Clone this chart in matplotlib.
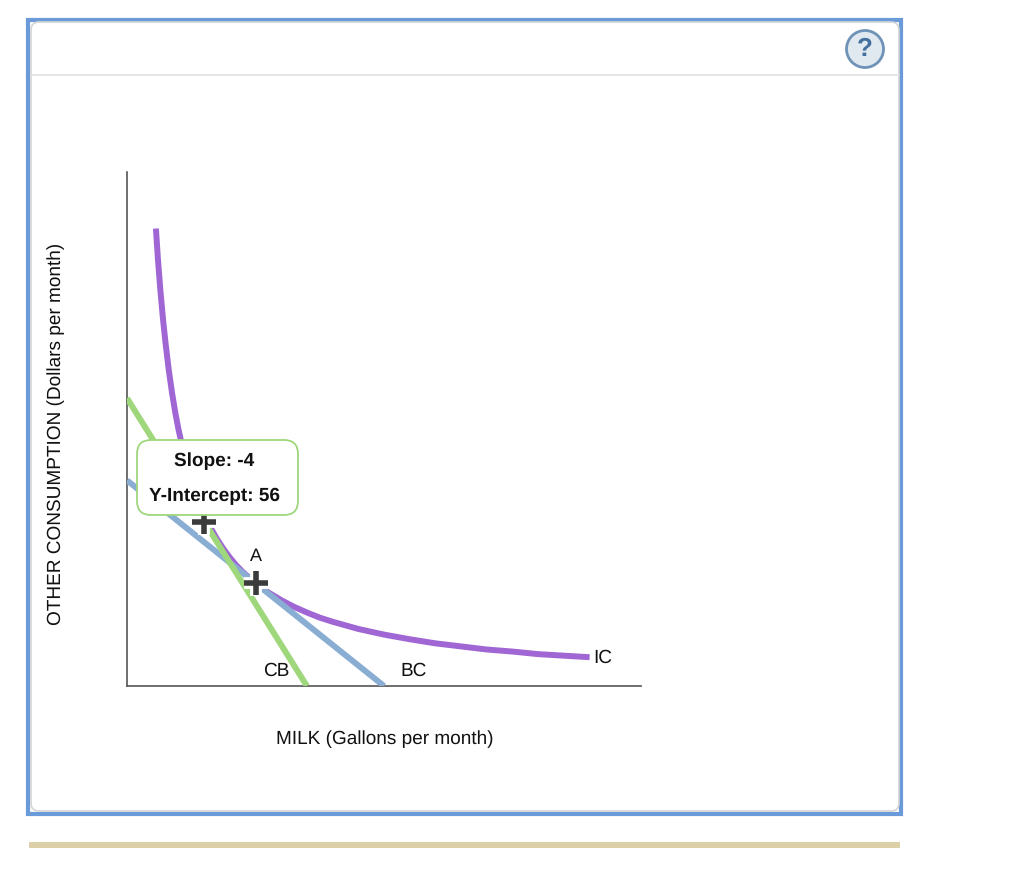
import matplotlib
matplotlib.use("Agg")
import matplotlib.pyplot as plt
from matplotlib.patches import FancyBboxPatch, Rectangle, Circle

plt.rcParams["font.family"] = ["Liberation Sans", "DejaVu Sans"]
plt.rcParams["text.hinting"] = "no_hinting"
plt.rcParams["text.hinting_factor"] = 1

W, H = 1024, 874

# data
ic_x = [2.25, 2.4, 2.6, 2.8, 3, 3.25, 3.5, 3.75, 4, 4.5, 5, 5.5, 6, 6.5, 7, 7.5, 8, 8.5, 9, 9.5,
        10, 11, 12, 13, 14, 15, 16, 18, 20, 22, 24, 26, 28, 30, 32, 34, 36]
ic_y = [89, 83.3, 76.9, 71.4, 66.7, 61.5, 57.1, 53.3, 50, 44.4, 40, 36.4, 33.3, 30.8, 28.6, 26.7, 25, 23.5, 22.2, 21.1,
        20, 18.2, 16.7, 15.4, 14.3, 13.3, 12.5, 11.1, 10, 9.1, 8.3, 7.7, 7.1, 6.7, 6.2, 5.9, 5.6]
bc_x = [0, 20]
bc_y = [40, 0]
cb_x = [0, 14]
cb_y = [56, 0]
handle_x = [6, 10]
handle_y = [32, 20]

PURPLE = "#a067d4"
GREEN = "#9fd77c"
BLUE = "#8aaed3"
DARK = "#3b3b3b"

fig = plt.figure(figsize=(W / 100, H / 100), dpi=100, facecolor="white")

# page chrome, in pixel coordinates
bg = fig.add_axes([0, 0, 1, 1], zorder=0)
bg.set_xlim(0, W)
bg.set_ylim(H, 0)
bg.axis("off")
bg.add_patch(Rectangle((28, 20), 873, 794, fc="white", ec="#6a9bd8", lw=3))
bg.add_patch(FancyBboxPatch((37, 28), 856, 777, boxstyle="round,pad=6,rounding_size=8",
                            fc="white", ec="#d4d4d4", lw=1.2))
bg.plot([31, 899], [75, 75], color="#e2e2e2", lw=1.2)
bg.add_patch(Rectangle((29, 842), 871, 6, fc="#dcd0a8", ec="none"))
bg.add_patch(Circle((865, 49), 18.5, fc="#e0e8f0", ec="#6f93b8", lw=2))
bg.text(865, 49.5, "?", ha="center", va="center", fontsize=19, fontweight="bold", color="#44709f")

# chart
ax = fig.add_axes([127 / W, 1 - 686 / H, 514 / W, 514 / H], zorder=1)
ax.patch.set_alpha(0)
ax.set_xlim(0, 40)
ax.set_ylim(0, 100)
ax.set_xticks([])
ax.set_yticks([])
ax.spines[["top", "right"]].set_visible(False)
ax.spines[["left", "bottom"]].set_color("#555555")
ax.spines[["left", "bottom"]].set_linewidth(1.2)

ax.plot(ic_x, ic_y, color=PURPLE, lw=4.3, solid_capstyle="butt", zorder=2)
ax.plot(bc_x, bc_y, color=BLUE, lw=4.3, solid_capstyle="butt", zorder=3)
ax.plot(cb_x, cb_y, color=GREEN, lw=4.3, solid_capstyle="butt", zorder=4)

ax.plot(handle_x, handle_y, ls="", marker="+", ms=18, mew=8.5, color="white", zorder=5)
ax.plot(handle_x, handle_y, ls="", marker="+", ms=17, mew=4, color=DARK, zorder=6)

ax.text(10, 24.4, "A", ha="center", va="baseline", fontsize=13, color="#111111")
ax.text(11.6, 1.9, "CB", ha="center", va="baseline", fontsize=13.5, color="#111111")
ax.text(22.3, 1.9, "BC", ha="center", va="baseline", fontsize=13.5, color="#111111")
ax.text(36.3, 4.5, "IC", ha="left", va="baseline", fontsize=13.5, color="#111111")

fig.text(385 / W, 1 - 739 / H, "MILK (Gallons per month)", ha="center", va="center",
         fontsize=13.9, color="#111111")
fig.text(56 / W, 1 - 434 / H, "OTHER CONSUMPTION (Dollars per month)", ha="center", va="center",
         rotation=90, fontsize=13.9, color="#111111")

# tooltip on top of the lines
tip = fig.add_axes([0, 0, 1, 1], zorder=2)
tip.set_xlim(0, W)
tip.set_ylim(H, 0)
tip.axis("off")
tip.add_patch(FancyBboxPatch((151, 454), 133, 47, boxstyle="round,pad=14,rounding_size=14",
                             fc="white", ec=GREEN, lw=1.3))
tip.text(214, 461, "Slope: -4", ha="center", va="center", fontsize=13.5, fontweight="bold", color="#111111")
tip.text(214, 496, "Y-Intercept: 56", ha="center", va="center", fontsize=13.5, fontweight="bold", color="#111111")

fig.savefig("out.png", dpi=100)
